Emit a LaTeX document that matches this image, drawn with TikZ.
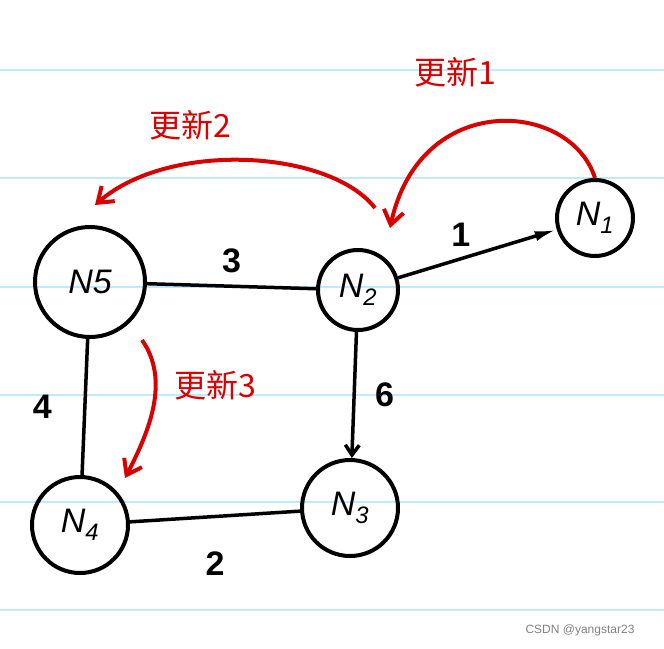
\documentclass[tikz,border=0pt]{standalone}
\usepackage{fontspec}
\newfontfamily\cjk{Noto Sans CJK SC}
\setmainfont{Liberation Sans}
\usetikzlibrary{arrows.meta}
\begin{document}
\begin{tikzpicture}[x=1pt,y=-1pt,
  nd/.style={draw=black,line width=4pt,circle,font=\fontsize{34}{36}\selectfont\itshape,inner sep=0pt},
  ed/.style={line width=3.5pt,black},
  upd/.style={line width=4pt,red!85!black,-{Straight Barb[length=14pt,width=20pt]}},
  ul/.style={red!85!black,font=\cjk\fontsize{32}{34}\selectfont},
  wl/.style={font=\fontsize{34}{36}\selectfont\bfseries}]
\useasboundingbox (0,0) rectangle (664,648);
\foreach \yy in {70,178,287,395,502,610} \draw[cyan!25,line width=1.2pt] (0,\yy) -- (664,\yy);
\node[nd,minimum size=76pt] (n1) at (595,218) {N\textsubscript{1}};
\node[nd,minimum size=80pt] (n2) at (358,290) {N\textsubscript{2}};
\node[nd,minimum size=110pt] (n5) at (90,282) {N5};
\node[nd,minimum size=96pt] (n4) at (80,525) {N\textsubscript{4}};
\node[nd,minimum size=96pt] (n3) at (350,508) {N\textsubscript{3}};
\draw[ed] (n5) -- node[above=8pt,wl]{3} (n2);
\draw[ed,-{Latex[length=22pt,width=10pt]}] (n2) -- node[above left=2pt,wl]{1} (n1);
\draw[ed,-{Straight Barb[length=10pt,width=14pt]}] (n2) -- node[right=16pt,wl]{6} (n3);
\draw[ed] (n5) -- node[left=28pt,wl]{4} (n4);
\draw[ed] (n4) -- node[below=30pt,wl]{2} (n3);
\draw[upd] (n1.north) .. controls (570,100) and (420,90) .. (390,228);
\node[ul] (u1) at (455,72) {更新1};
\draw[upd] (375,208) .. controls (330,150) and (170,140) .. (95,205);
\node[ul] (u2) at (190,125) {更新2};
\draw[upd] (142,340) .. controls (170,380) and (150,430) .. (125,478);
\node[ul] (u3) at (215,385) {更新3};
\node[gray,font=\large] (wm) at (580,630) {CSDN @yangstar23};
\end{tikzpicture}
\end{document}
